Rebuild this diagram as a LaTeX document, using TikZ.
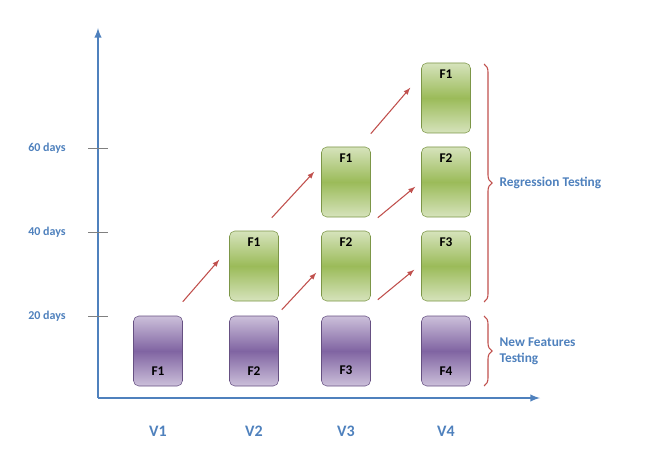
\documentclass[tikz,border=0pt]{standalone}
\usepackage{fontspec}
\setmainfont{Carlito}
\usetikzlibrary{decorations.pathreplacing}
\definecolor{axisblue}{RGB}{79,129,189}
\definecolor{arrowred}{RGB}{192,80,77}
\definecolor{purplemid}{RGB}{128,100,162}
\definecolor{purplelt}{RGB}{204,192,218}
\definecolor{greenmid}{RGB}{155,187,89}
\definecolor{greenlt}{RGB}{214,227,188}
\tikzset{
  featbox/.style={draw=#1, rounded corners=4pt, minimum width=36.75pt, minimum height=52.5pt,
    inner sep=0pt, font=\bfseries},
  newbox/.style={featbox=purplemid!80!black, top color=purplelt, bottom color=purplelt,
    middle color=purplemid, text height=36pt},
  regbox/.style={featbox=greenmid!80!black, top color=greenlt, bottom color=greenlt,
    middle color=greenmid, text depth=36pt},
  axislbl/.style={text=axisblue, font=\bfseries},
  moveto/.style={draw=arrowred, thick, -latex},
  brc/.style={draw=arrowred, thick, decorate, decoration={brace, amplitude=6pt}}
}
\begin{document}
\begin{tikzpicture}[x=0.75pt,y=0.75pt,yscale=-1,xscale=1]
	\path[use as bounding box] (0,0) rectangle (652,452);
	% axes
	\coordinate (o) at (98,398);
	\coordinate (ytop) at (98,28);
	\coordinate (xend) at (540,398);
	\draw[axisblue, line width=1.5pt, -latex] (o) -- (ytop);
	\draw[axisblue, line width=1.5pt, -latex] (o) -- (xend);
	% ticks and day labels
	\foreach \yy/\lbl in {316/20 days, 232/40 days, 148/60 days} {
		\draw[gray] (88,\yy) -- (108,\yy);
		\node[axislbl, font=\bfseries\small] at (47,\yy) {\lbl};
	}
	% versions
	\foreach \xx/\lbl in {158/V1, 254/V2, 346/V3, 446/V4}
		\node[axislbl, font=\bfseries\large] at (\xx,431) {\lbl};
	% new feature boxes
	\node[newbox] (n1) at (158,351) {F1};
	\node[newbox] (n2) at (254,351) {F2};
	\node[newbox] (n3) at (346,351) {F3};
	\node[newbox] (n4) at (446,351) {F4};
	% regression boxes
	\node[regbox] (r21) at (254,266) {F1};
	\node[regbox] (r31) at (346,182) {F1};
	\node[regbox] (r32) at (346,266) {F2};
	\node[regbox] (r41) at (446,98) {F1};
	\node[regbox] (r42) at (446,182) {F2};
	\node[regbox] (r43) at (446,266) {F3};
	% moves
	\draw[moveto] ([shift={(0,-14)}]n1.north east) -- ([shift={(-10,29)}]r21.north west);
	\draw[moveto] ([shift={(3,-6)}]n2.north east) -- ([shift={(-5,42)}]r32.north west);
	\draw[moveto] ([shift={(-7,-13)}]r21.north east) -- ([shift={(-7,25)}]r31.north west);
	\draw[moveto] ([shift={(7,-16)}]n3.north east) -- ([shift={(-7,39)}]r43.north west);
	\draw[moveto] ([shift={(7,-13)}]r32.north east) -- ([shift={(-6,40)}]r42.north west);
	\draw[moveto] ([shift={(0,-13)}]r31.north east) -- ([shift={(-11,25)}]r41.north west);
	% braces
	\coordinate (ba) at (484,64);
	\coordinate (bb) at (484,302);
	\coordinate (bc) at (484,316);
	\coordinate (bd) at (484,386);
	\draw[brc] (ba) -- (bb) node[midway, right=8pt, axislbl, font=\bfseries] (reg) {Regression Testing};
	\draw[brc] (bc) -- (bd) node[midway, right=8pt, axislbl, font=\bfseries, align=left] (newf) {New Features\\Testing};
\end{tikzpicture}
\end{document}
